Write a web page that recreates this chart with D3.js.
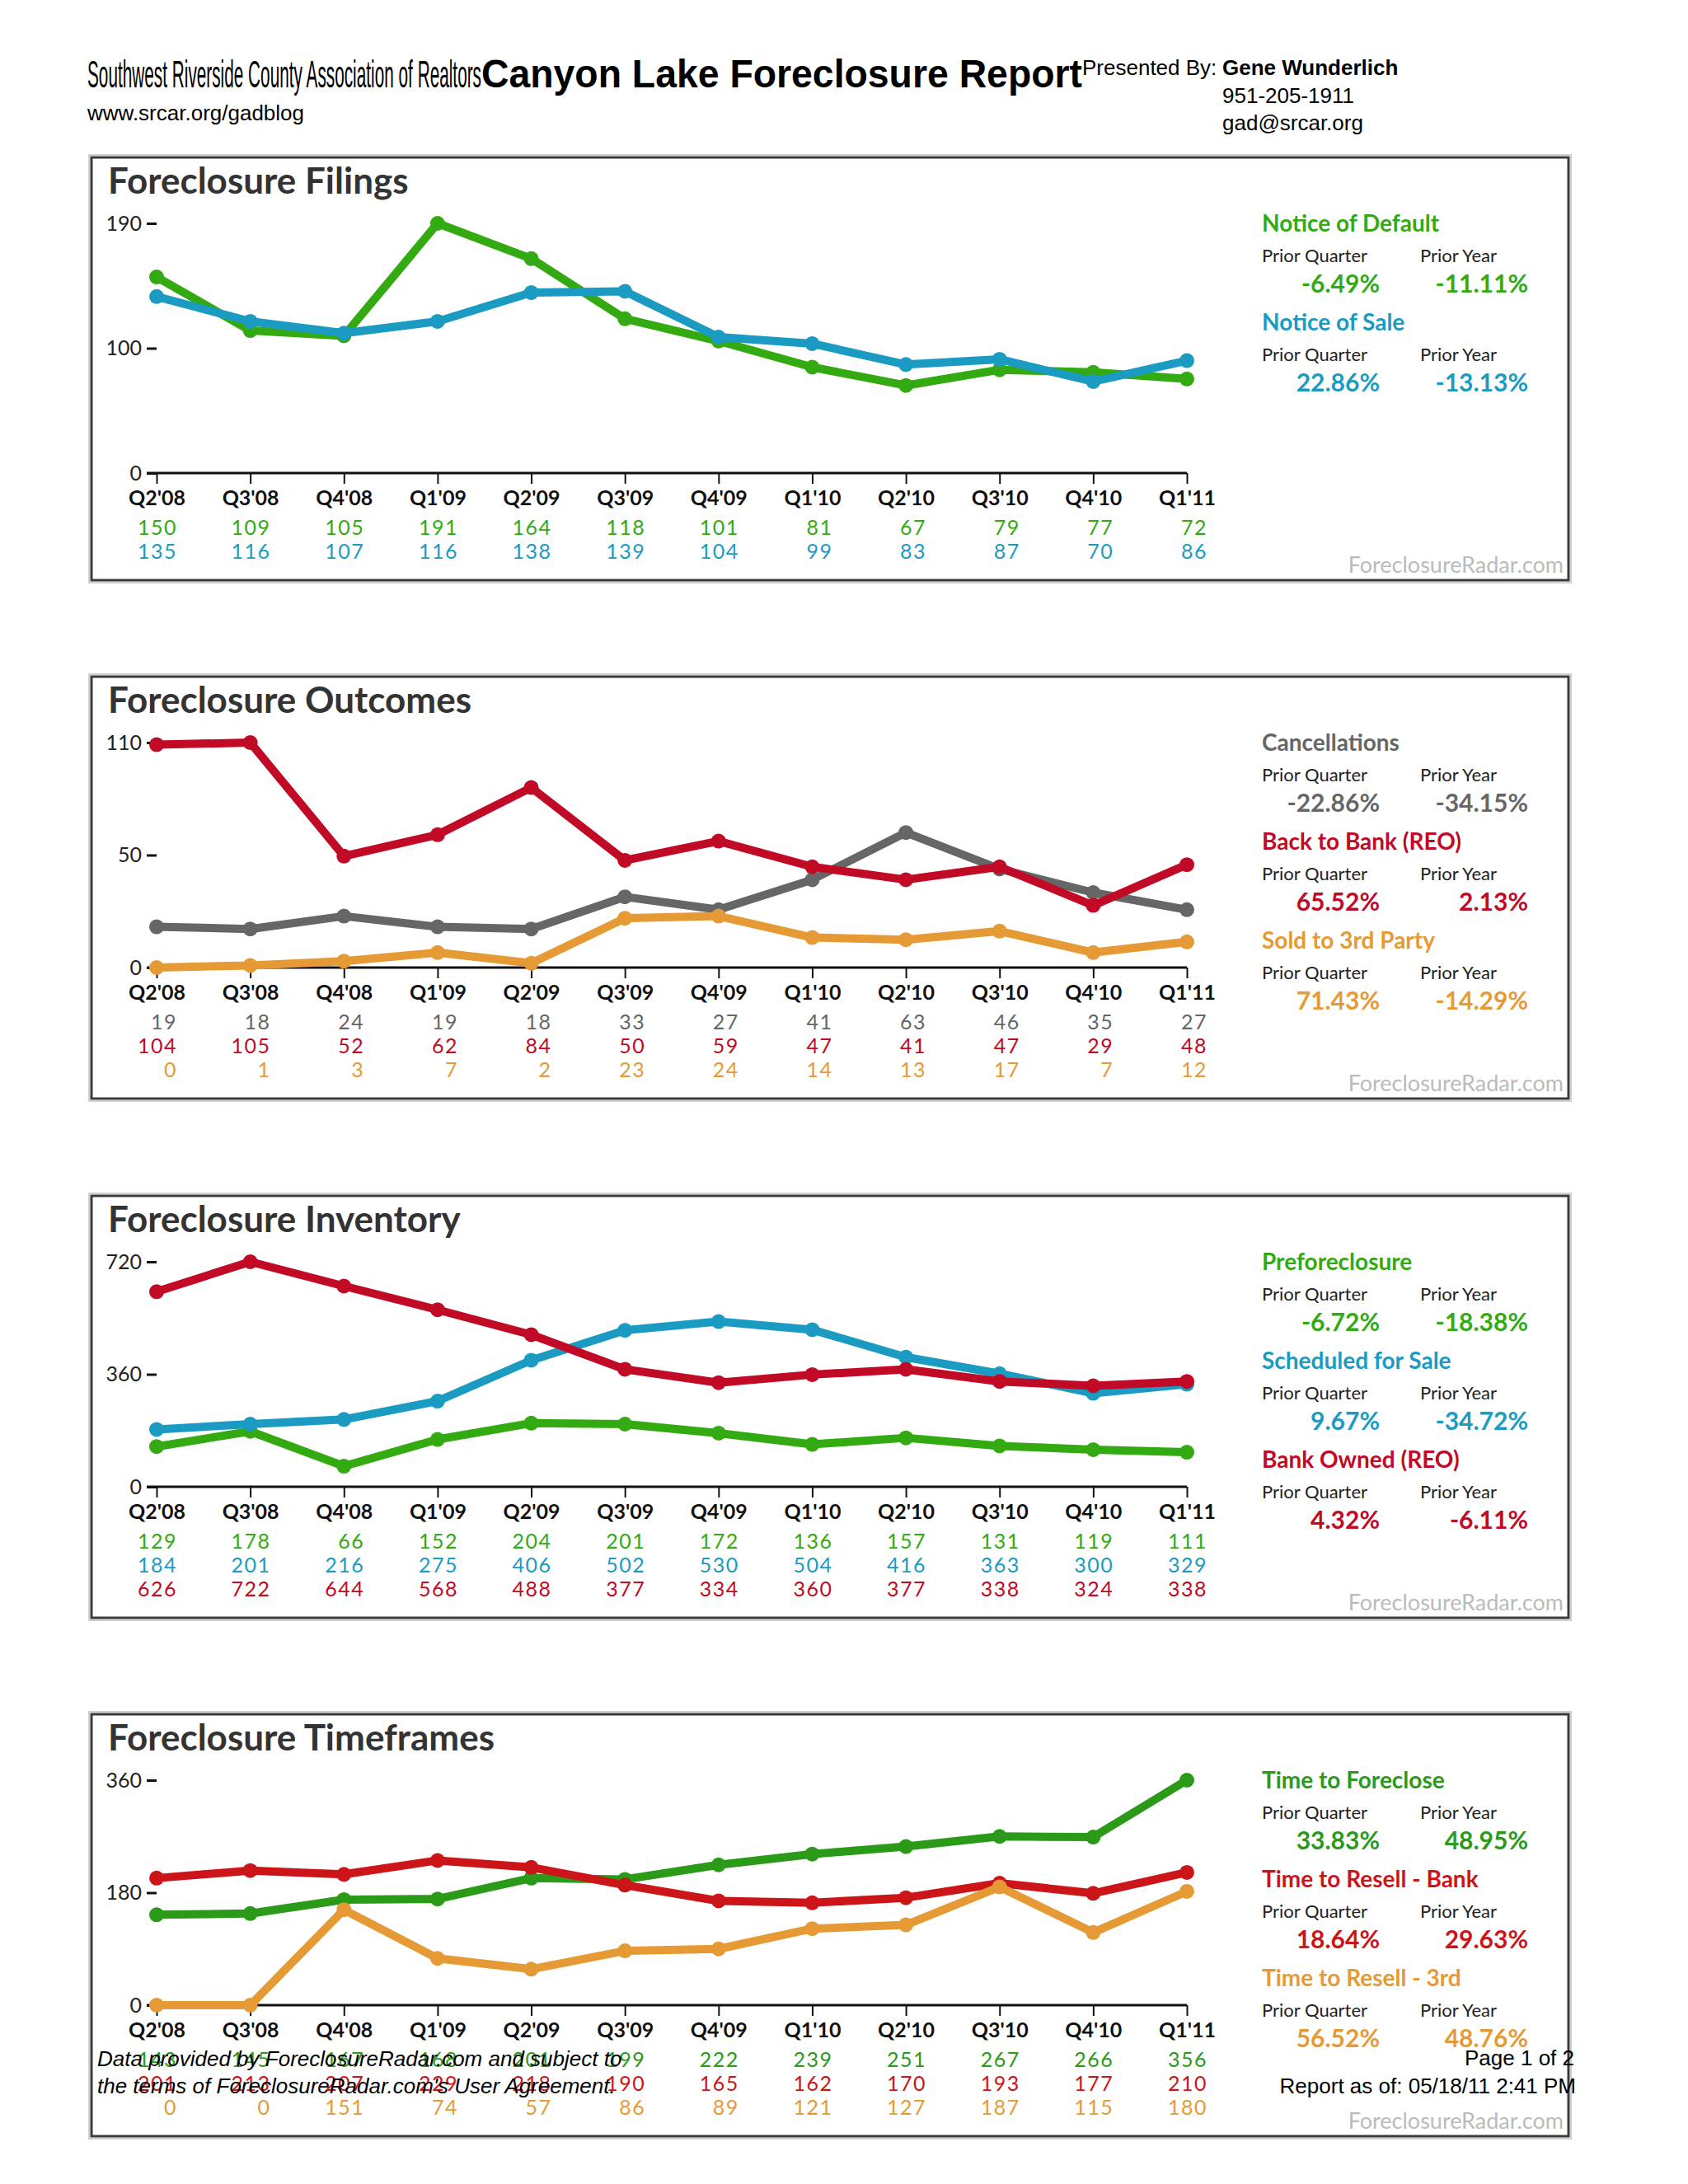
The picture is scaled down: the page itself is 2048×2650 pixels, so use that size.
<!DOCTYPE html>
<html>
<head>
    <meta charset="UTF-8">
    <title>Canyon Lake Foreclosure Report</title>
    <script src="https://d3js.org/d3.v7.min.js"></script>
    <style>
        body { margin: 0; background: #fff; }
        svg { display: block; }
    </style>
</head>
<body>
    <div id="report"></div>

    <script>
        // Quarters on every x axis
        var quarters = ["Q2'08", "Q3'08", "Q4'08", "Q1'09", "Q2'09", "Q3'09", "Q4'09", "Q1'10", "Q2'10", "Q3'10", "Q4'10", "Q1'11"];

        // Foreclosure Filings
        var noticeOfDefault = [150, 109, 105, 191, 164, 118, 101, 81, 67, 79, 77, 72];
        var noticeOfSale = [135, 116, 107, 116, 138, 139, 104, 99, 83, 87, 70, 86];
        var filingsTicks = ["0", "100", "190"];

        // Foreclosure Outcomes
        var cancellations = [19, 18, 24, 19, 18, 33, 27, 41, 63, 46, 35, 27];
        var backToBank = [104, 105, 52, 62, 84, 50, 59, 47, 41, 47, 29, 48];
        var soldTo3rd = [0, 1, 3, 7, 2, 23, 24, 14, 13, 17, 7, 12];
        var outcomesTicks = ["0", "50", "110"];

        // Foreclosure Inventory
        var preforeclosure = [129, 178, 66, 152, 204, 201, 172, 136, 157, 131, 119, 111];
        var scheduledForSale = [184, 201, 216, 275, 406, 502, 530, 504, 416, 363, 300, 329];
        var bankOwned = [626, 722, 644, 568, 488, 377, 334, 360, 377, 338, 324, 338];
        var inventoryTicks = ["0", "360", "720"];

        // Foreclosure Timeframes
        var timeToForeclose = [143, 145, 167, 168, 201, 199, 222, 239, 251, 267, 266, 356];
        var timeResellBank = [201, 213, 207, 229, 218, 190, 165, 162, 170, 193, 177, 210];
        var timeResell3rd = [0, 0, 151, 74, 57, 86, 89, 121, 127, 187, 115, 180];
        var timeframesTicks = ["0", "180", "360"];

        // Change figures shown at the right of each panel
        var filingsNames = ["Notice of Default", "Notice of Sale"];
        var filingsPriorQuarter = ["-6.49%", "22.86%"];
        var filingsPriorYear = ["-11.11%", "-13.13%"];

        var outcomesNames = ["Cancellations", "Back to Bank (REO)", "Sold to 3rd Party"];
        var outcomesPriorQuarter = ["-22.86%", "65.52%", "71.43%"];
        var outcomesPriorYear = ["-34.15%", "2.13%", "-14.29%"];

        var inventoryNames = ["Preforeclosure", "Scheduled for Sale", "Bank Owned (REO)"];
        var inventoryPriorQuarter = ["-6.72%", "9.67%", "4.32%"];
        var inventoryPriorYear = ["-18.38%", "-34.72%", "-6.11%"];

        var timeframesNames = ["Time to Foreclose", "Time to Resell - Bank", "Time to Resell - 3rd"];
        var timeframesPriorQuarter = ["33.83%", "18.64%", "56.52%"];
        var timeframesPriorYear = ["48.95%", "29.63%", "48.76%"];

        var GREEN = "#33aa11", BLUE = "#1b9bc2", RED = "#c10a25", ORANGE = "#e69a35", GRAY = "#666666";
        var DGREEN = "#2a9a18", TRED = "#cc1519";

        var panels = [
            { title: "Foreclosure Filings", top: 190, height: 515, ticks: filingsTicks,
              series: [noticeOfDefault, noticeOfSale], colors: [GREEN, BLUE],
              names: filingsNames, pq: filingsPriorQuarter, py: filingsPriorYear },
            { title: "Foreclosure Outcomes", top: 820, height: 514, ticks: outcomesTicks,
              series: [cancellations, backToBank, soldTo3rd], colors: [GRAY, RED, ORANGE],
              names: outcomesNames, pq: outcomesPriorQuarter, py: outcomesPriorYear },
            { title: "Foreclosure Inventory", top: 1450, height: 514, ticks: inventoryTicks,
              series: [preforeclosure, scheduledForSale, bankOwned], colors: [GREEN, BLUE, RED],
              names: inventoryNames, pq: inventoryPriorQuarter, py: inventoryPriorYear },
            { title: "Foreclosure Timeframes", top: 2079, height: 514, ticks: timeframesTicks,
              series: [timeToForeclose, timeResellBank, timeResell3rd], colors: [DGREEN, TRED, ORANGE],
              names: timeframesNames, pq: timeframesPriorQuarter, py: timeframesPriorYear }
        ];

        var width = 2048, height = 2650;
        var chartFont = "Lato, 'Open Sans', sans-serif";
        var headFont = "'Liberation Sans', Arial, sans-serif";

        var svg = d3.select("#report").append("svg")
            .attr("width", width)
            .attr("height", height);

        svg.append("rect").attr("width", width).attr("height", height).attr("fill", "#fff");

        // Page header
        var head = svg.append("g").attr("font-family", headFont).attr("fill", "#000");
        head.append("text").attr("x", 106).attr("y", 106)
            .attr("font-size", 46)
            .attr("textLength", 478).attr("lengthAdjust", "spacingAndGlyphs")
            .text("Southwest Riverside County Association of Realtors");
        head.append("text").attr("x", 106).attr("y", 146).attr("font-size", 26)
            .text("www.srcar.org/gadblog");
        head.append("text").attr("x", 584).attr("y", 106)
            .attr("font-size", 48).attr("font-weight", "bold")
            .attr("textLength", 729).attr("lengthAdjust", "spacingAndGlyphs")
            .text("Canyon Lake Foreclosure Report");
        head.append("text").attr("x", 1313).attr("y", 91).attr("font-size", 26)
            .text("Presented By:");
        head.append("text").attr("x", 1483).attr("y", 91).attr("font-size", 26).attr("font-weight", "bold")
            .text("Gene Wunderlich");
        head.append("text").attr("x", 1483).attr("y", 125).attr("font-size", 26)
            .text("951-205-1911");
        head.append("text").attr("x", 1483).attr("y", 158).attr("font-size", 26)
            .text("gad@srcar.org");

        var x = d3.scalePoint().domain(quarters).range([190, 1440]);

        panels.forEach(function (p) {
            var rows = p.series.length;
            var y0 = p.top + p.height - 27 - 29 * (rows - 1) - 75;
            var yTop = p.top + 81;
            var maxVal = d3.max(p.series, function (s) { return d3.max(s); });
            var y = d3.scaleLinear().domain([0, maxVal]).range([y0, yTop]);

            var g = svg.append("g").attr("font-family", chartFont);

            // frame
            g.append("rect")
                .attr("x", 108).attr("y", p.top - 2)
                .attr("width", 1798).attr("height", p.height + 4)
                .attr("fill", "none").attr("stroke", "#d0d0d0").attr("stroke-width", 2);
            g.append("rect")
                .attr("x", 111).attr("y", p.top + 1)
                .attr("width", 1792).attr("height", p.height - 2)
                .attr("fill", "#fff").attr("stroke", "#3a3a3a").attr("stroke-width", 3);

            g.append("text")
                .attr("x", 131).attr("y", p.top + 45)
                .attr("font-size", 44).attr("font-weight", "bold").attr("fill", "#333")
                .text(p.title);

            // y axis: three ticks, 0 / half / max
            var yAxis = d3.axisLeft(y)
                .tickValues([0, maxVal / 2, maxVal])
                .tickFormat(function (d, i) { return p.ticks[i]; })
                .tickSize(12).tickPadding(6);
            var ya = g.append("g").attr("transform", "translate(190,0)").call(yAxis);
            ya.select(".domain").remove();
            ya.selectAll("line").attr("stroke", "#111").attr("stroke-width", 3);
            ya.selectAll("text").attr("font-family", chartFont).attr("font-size", 25).attr("fill", "#222");

            // x axis
            var xAxis = d3.axisBottom(x).tickSize(13).tickSizeOuter(0);
            var xa = g.append("g").attr("transform", "translate(0," + y0 + ")").call(xAxis);
            xa.select(".domain").remove();
            xa.selectAll("line").attr("stroke", "#111").attr("stroke-width", 2);
            xa.selectAll("text")
                .attr("y", 39).attr("dy", 0)
                .attr("font-family", chartFont).attr("font-size", 25)
                .attr("font-weight", "bold").attr("fill", "#111");
            g.append("line")
                .attr("x1", x.range()[0] - 12).attr("x2", x.range()[1])
                .attr("y1", y0).attr("y2", y0)
                .attr("stroke", "#111").attr("stroke-width", 3);

            var line = d3.line()
                .x(function (d, i) { return x(quarters[i]); })
                .y(function (d) { return y(d); });

            p.series.forEach(function (s, k) {
                var col = p.colors[k];
                g.append("path")
                    .datum(s)
                    .attr("d", line)
                    .attr("fill", "none")
                    .attr("stroke", col)
                    .attr("stroke-width", 10)
                    .attr("stroke-linejoin", "round");
                g.selectAll(".pt" + k)
                    .data(s)
                    .enter().append("circle")
                    .attr("class", "pt" + k)
                    .attr("cx", function (d, i) { return x(quarters[i]); })
                    .attr("cy", function (d) { return y(d); })
                    .attr("r", 9)
                    .attr("fill", col);

                // value row under the axis
                g.selectAll(".val" + k)
                    .data(s)
                    .enter().append("text")
                    .attr("class", "val" + k)
                    .attr("x", function (d, i) { return x(quarters[i]) + 25; })
                    .attr("y", y0 + 75 + 29 * k)
                    .attr("text-anchor", "end")
                    .attr("font-size", 25)
                    .attr("letter-spacing", 1.5)
                    .attr("fill", col)
                    .text(function (d) { return d; });
            });

            // change summary on the right
            p.names.forEach(function (name, k) {
                var by = p.top + 91 + 120 * k;
                var col = p.colors[k];
                g.append("text").attr("x", 1531).attr("y", by)
                    .attr("font-size", 28).attr("font-weight", "bold").attr("fill", col)
                    .text(name);
                g.append("text").attr("x", 1531).attr("y", by + 37)
                    .attr("font-size", 22).attr("fill", "#222").text("Prior Quarter");
                g.append("text").attr("x", 1723).attr("y", by + 37)
                    .attr("font-size", 22).attr("fill", "#222").text("Prior Year");
                g.append("text").attr("x", 1674).attr("y", by + 74)
                    .attr("text-anchor", "end")
                    .attr("font-size", 30).attr("font-weight", "bold").attr("fill", col)
                    .text(p.pq[k]);
                g.append("text").attr("x", 1854).attr("y", by + 74)
                    .attr("text-anchor", "end")
                    .attr("font-size", 30).attr("font-weight", "bold").attr("fill", col)
                    .text(p.py[k]);
            });

            g.append("text")
                .attr("x", 1897).attr("y", p.top + p.height - 10)
                .attr("text-anchor", "end")
                .attr("font-size", 27).attr("fill", "#bbbbbb")
                .text("ForeclosureRadar.com");
        });

        // Footer notes, drawn over the last panel like the original
        var foot = svg.append("g").attr("font-family", headFont).attr("fill", "#000").attr("font-size", 26);
        foot.append("text").attr("x", 118).attr("y", 2507).attr("font-style", "italic")
            .text("Data provided by ForeclosureRadar.com and subject to");
        foot.append("text").attr("x", 118).attr("y", 2540).attr("font-style", "italic")
            .text("the terms of ForeclosureRadar.com's User Agreement.");
        foot.append("text").attr("x", 1910).attr("y", 2506).attr("text-anchor", "end")
            .text("Page 1 of 2");
        foot.append("text").attr("x", 1912).attr("y", 2540).attr("text-anchor", "end")
            .text("Report as of: 05/18/11 2:41 PM");
    </script>
</body>
</html>
